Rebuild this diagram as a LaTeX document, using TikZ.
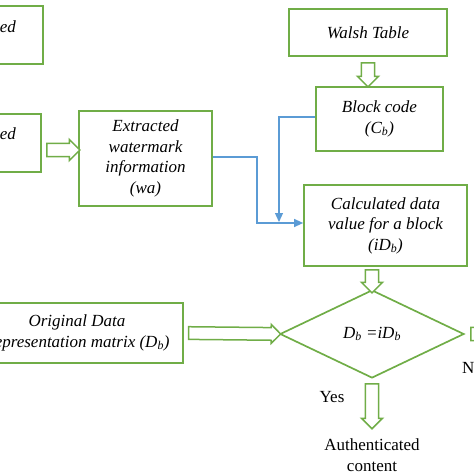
\documentclass[tikz,border=0pt]{standalone}
\usepackage{fontspec}
\setmainfont{Liberation Serif}
\usetikzlibrary{shapes.geometric,shapes.arrows,arrows.meta}
\definecolor{gr}{HTML}{70AD47}
\definecolor{bl}{HTML}{5B9BD5}
\newcommand{\shaft}[1]{\rule{0pt}{#1}}
\begin{document}
\begin{tikzpicture}[x=1pt,y=-1pt,
 box/.style={draw=gr, line width=1.7pt, align=center, font=\fontsize{17}{20.5}\selectfont\itshape, inner sep=0pt},
 txt/.style={align=center, font=\fontsize{17}{20.5}\selectfont\itshape, inner sep=0pt},
 lbl/.style={align=center, font=\fontsize{17}{20.5}\selectfont, inner sep=0pt},
 harrow/.style={single arrow, draw=gr, line width=1.5pt, fill=white, minimum width=21pt,
   single arrow head extend=2pt, single arrow tip angle=90, inner sep=0pt,
   sloped, allow upside down, midway},
 bline/.style={draw=bl, line width=1.2pt},
 btip/.style={-{Triangle[length=9pt,width=8pt]}}
]
\useasboundingbox (0,0) rectangle (474,474);

% left boxes (cut off)
\node[box, minimum width=48pt, minimum height=58pt] (b1) at (19,35) {};
\node[txt, anchor=east] (t1) at (16,27) {ed};
\node[box, minimum width=46pt, minimum height=58pt] (b2) at (18,143) {};
\node[txt, anchor=east] (t2) at (16,134) {ed};

\node[box, minimum width=133pt, minimum height=95pt] (ext) at (145.5,158.5)
  {Extracted\\watermark\\information\\(\textit{wa})};
\node[box, minimum width=158pt, minimum height=47pt] (walsh) at (368,32.5) {Walsh Table};
\node[box, minimum width=127pt, minimum height=64pt] (block) at (379.5,119)
  {Block code\\(C\textsubscript{b})};
\node[box, minimum width=163pt, minimum height=81pt] (calc) at (385.5,225.5)
  {Calculated data\\value for a block\\(\textit{iD}\textsubscript{b})};
\node[box, diamond, minimum width=184pt, minimum height=88pt] (dia) at (372,334)
  {D\textsubscript{b} =iD\textsubscript{b}};
\node[box, minimum width=212pt, minimum height=60pt] (orig) at (77,333)
  {Original Data\\Representation matrix (D\textsubscript{b})};

\node[lbl] (yes) at (332,397) {Yes};
\node[lbl, anchor=west] (no) at (462,368) {No};
\node[lbl] (auth) at (372,455) {Authenticated\\content};
\coordinate (yesend) at (372,427);
\coordinate (noend) at (490,334);

% hollow arrows
\path (b2.east |- 0,150) -- (ext.west |- 0,150) node[harrow, minimum height=33pt] {\shaft{5.5pt}};
\path (walsh.south) -- (walsh.south |- block.north) node[harrow, minimum height=24pt] {\shaft{5.5pt}};
\path (dia.north |- calc.south) -- (dia.north) node[harrow, minimum height=23pt] {\shaft{5.5pt}};
\path (orig.east) -- (dia.west) node[harrow, minimum height=92pt, minimum width=19pt] {\shaft{6.5pt}};
\path (dia.east) -- (noend) node[harrow, minimum height=20pt] {\shaft{5.5pt}};
\path (dia.south) -- (yesend) node[harrow, minimum height=45pt] {\shaft{5.5pt}};

% blue connectors
\coordinate (c1) at (257,157);
\coordinate (c2) at (257,223);
\draw[bline, btip] (ext.east |- c1) -- (c1) -- (c2) -- (calc.west |- c2);
\coordinate (d1) at (279,117);
\coordinate (d2) at (279,222);
\draw[bline, btip] (block.west |- d1) -- (d1) -- (d2);
\end{tikzpicture}
\end{document}
